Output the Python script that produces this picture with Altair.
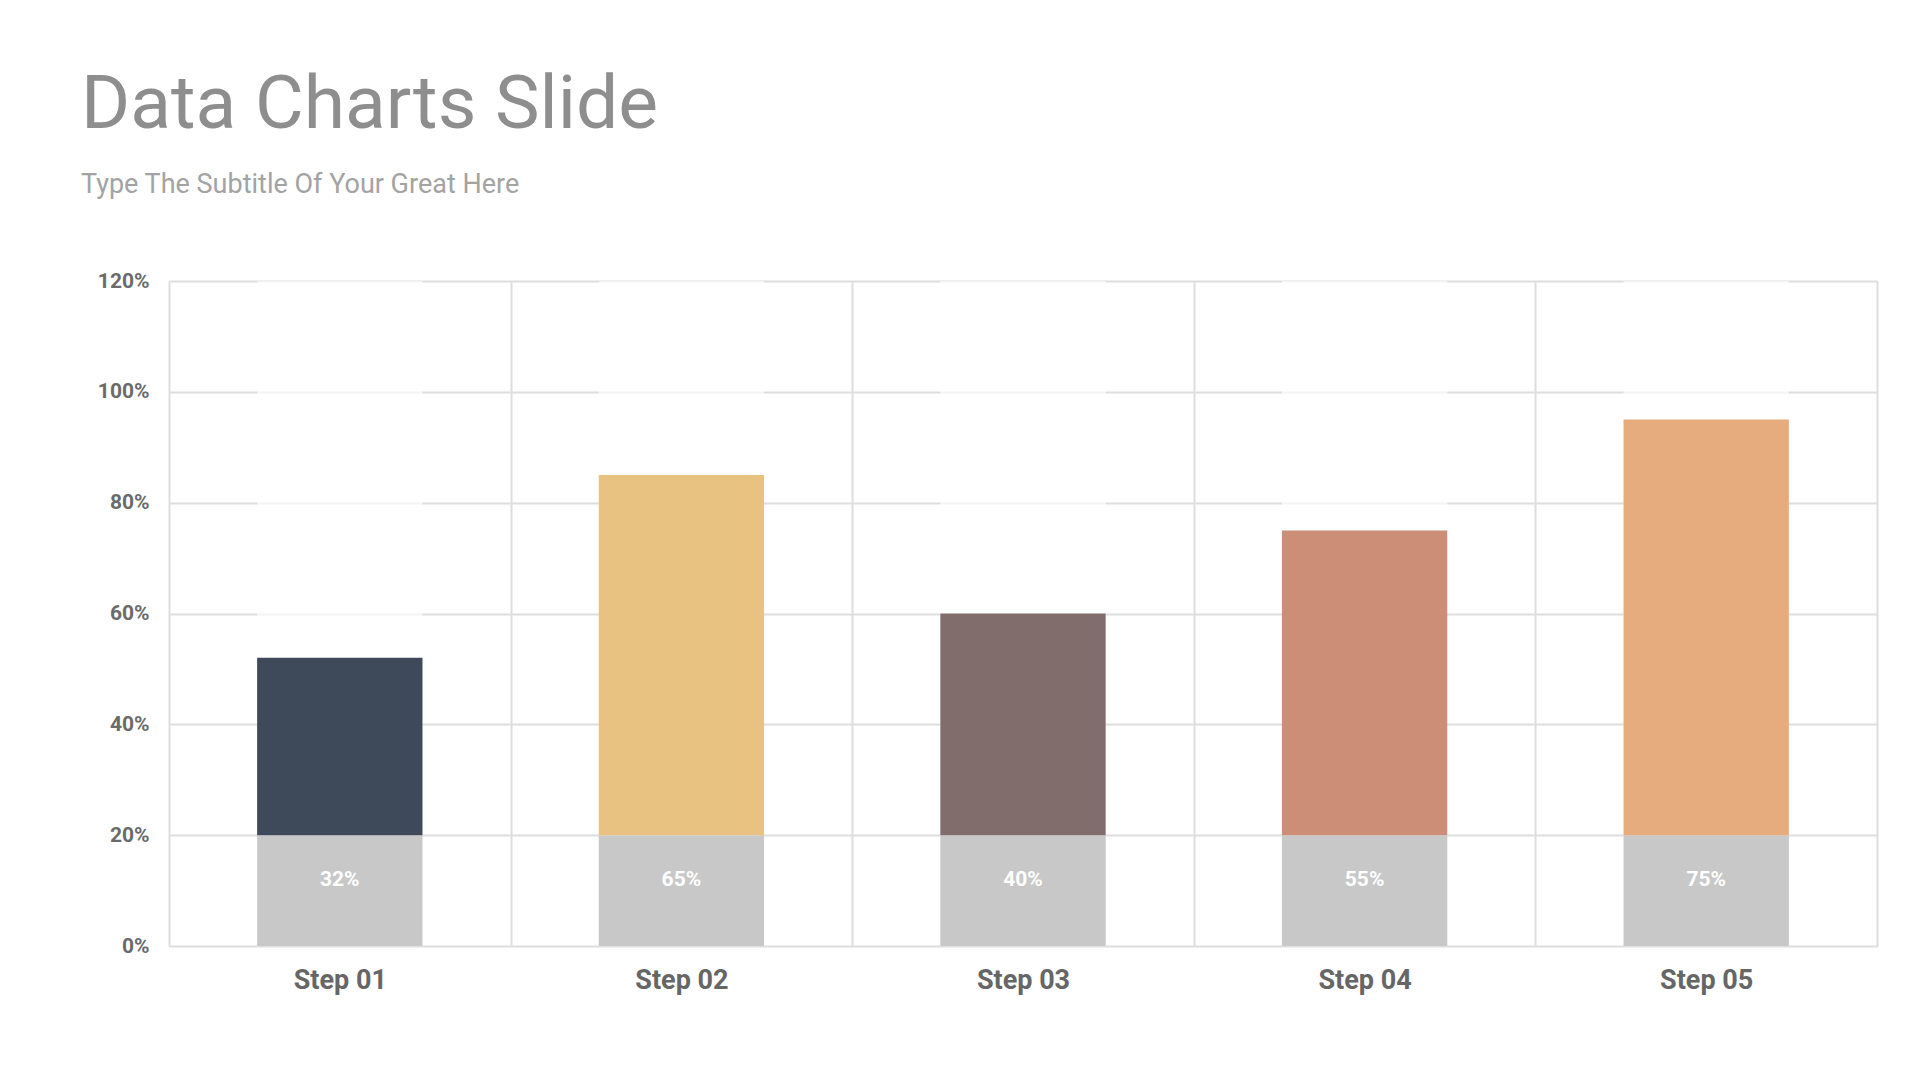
import altair as alt
import pandas as pd

# ---- data ----
steps = ["Step 01", "Step 02", "Step 03", "Step 04", "Step 05"]
values = [32, 65, 40, 55, 75]          # labelled value of each step (coloured part)
base_level = 20                        # grey base block of every bar
axis_max = 120
y_ticks = [0, 20, 40, 60, 80, 100, 120]
bar_colors = ["#3e4a59", "#e7c281", "#826d6d", "#cd8e77", "#e7ac7e"]
base_color = "#c8c8c8"
grid_color = "#dedede"
label_level = 12

df = pd.DataFrame({"step": steps, "value": values})
df["zero"] = 0
df["base"] = base_level
df["top"] = df["value"] + base_level
df["max"] = axis_max
df["label"] = df["value"].astype(str) + "%"

FONT = "Roboto"

x_enc = alt.X(
    "step:N",
    sort=steps,
    scale=alt.Scale(paddingInner=0, paddingOuter=0),
    axis=alt.Axis(
        title=None, labelAngle=0, ticks=False, domain=False,
        grid=True, tickBand="extent", gridColor=grid_color, gridWidth=2,
        labelFont=FONT, labelFontSize=27, labelFontWeight="bold",
        labelColor="#666666", labelPadding=21,
    ),
)
y_scale = alt.Scale(domain=[0, axis_max], nice=False)
y_axis = alt.Axis(
    values=y_ticks, labelExpr="datum.value + '%'", title=None,
    ticks=False, domain=False, grid=True, gridColor=grid_color, gridWidth=2,
    labelFont=FONT, labelFontSize=21, labelFontWeight="bold",
    labelColor="#6b6b6b", labelPadding=20,
)

bar_w = {"band": 0.484}

ghost = alt.Chart(df).mark_bar(color="white", opacity=0.65, width=bar_w).encode(
    x=x_enc,
    y=alt.Y("zero:Q", scale=y_scale, axis=y_axis),
    y2="max:Q",
)
base_bars = alt.Chart(df).mark_bar(color=base_color, width=bar_w).encode(
    x=x_enc,
    y=alt.Y("zero:Q", scale=y_scale),
    y2="base:Q",
)
top_bars = alt.Chart(df).mark_bar(width=bar_w).encode(
    x=x_enc,
    y=alt.Y("base:Q", scale=y_scale),
    y2="top:Q",
    color=alt.Color("step:N", scale=alt.Scale(domain=steps, range=bar_colors), legend=None),
)
labels = alt.Chart(df).mark_text(
    color="white", font=FONT, fontSize=21, fontWeight="bold", baseline="middle"
).encode(
    x=x_enc,
    y=alt.datum(label_level, scale=y_scale),
    text="label:N",
)

chart = alt.layer(ghost, base_bars, top_bars, labels).properties(
    width=1708,
    height=665,
    autosize=alt.AutoSizeParams(type="none"),
    padding={"left": 161, "top": 273, "right": 20, "bottom": 100},
    title=alt.TitleParams(
        text="Data Charts Slide",
        subtitle="Type The Subtitle Of Your Great Here",
        anchor="start", frame="group", dx=-88, offset=71,
        font=FONT, fontSize=75, fontWeight="normal", color="#8e8e8e",
        subtitleFont=FONT, subtitleFontSize=27, subtitleColor="#a3a3a3",
        subtitlePadding=28,
    ),
).configure_view(stroke=None).configure(background="white")

chart.save("out.html", embed_options={"renderer": "svg", "actions": False})
